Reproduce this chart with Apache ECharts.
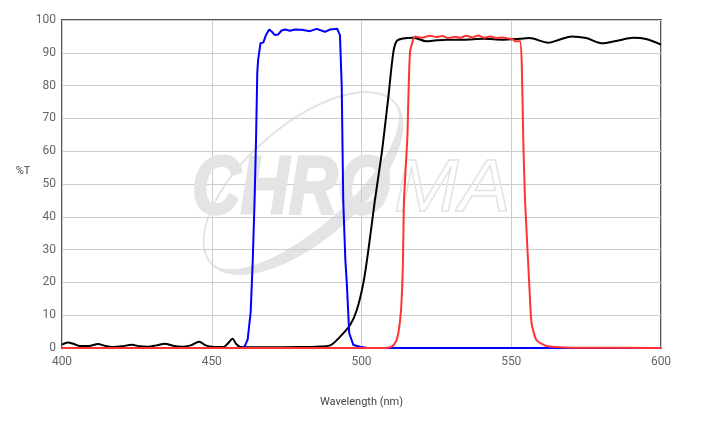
<!DOCTYPE html>
<html><head><meta charset="utf-8">
<script src="https://cdn.jsdelivr.net/npm/echarts@6/dist/echarts.min.js"></script>
<style>html,body{margin:0;padding:0;background:#fff}#c{width:701px;height:431px}</style>
</head><body><div id="c"></div>
<script>
// Black curve (long-pass)
const blackWl = [400,402,404,406,409,412,414.5,417,420,423.3,426,428.8,431.5,434.4,437,440,443,445.8,448,450,452,454,455.5,456.9,458.2,459.5,462,470,480,485,489.5,492.8,496.2,498.4,500.6,502.3,504.5,506.7,507.5,509,510.6,511.7,513.4,517.3,521.7,525,528.4,534,540.7,547.4,552.9,556,562.4,566,570.2,575,580.2,585,590.8,595,600];
const blackT  = [1.0,1.7,1.2,0.6,0.6,1.2,0.6,0.3,0.5,1.0,0.5,0.4,0.8,1.3,0.7,0.4,0.8,1.9,0.8,0.4,0.3,0.3,1.5,2.8,1.2,0.3,0.2,0.2,0.3,0.4,0.8,3.4,7,11.5,19.7,29.9,45.2,59,65,76.8,90,93.5,94.3,94.6,93.5,93.8,94,94,94.3,94,94.3,94.5,93.1,94,95,94.5,92.9,93.6,94.6,94.2,92.5];
// Blue curve (band-pass)
const blueWl = [400,460,461,462,463,463.7,464.3,464.8,465.2,465.5,466.3,467.2,468.1,469.2,470,471.1,472.2,473.3,474.5,476.1,477.8,480,482.8,485,487.8,489.5,491.9,492.8,493.4,493.9,494.6,495.1,495.9,497.3,499.5,502,600];
const blueT  = [0,0,0.5,2.6,11,27,45,64,84,88,93,93.1,95.4,97.1,96.5,95.4,95.6,96.8,97.1,96.7,97.1,97,96.6,97.3,96.4,97.1,97.3,95.4,79.7,45,27,19.7,4.5,0.9,0.4,0,0];
// Red curve (band-pass)
const redWl = [400,508,510.1,511.5,512.3,513.2,513.8,514.2,515.3,516.2,517.9,520,522.9,525,527,529,531,533,535,537,539,541,543,545,547,549,550.7,551.3,552.9,553.5,554,554.6,556,556.8,558.5,561.8,565,570,600];
const redT  = [0,0,0.4,2,4.5,11.6,24.8,45.2,64,90,95,94.6,95.2,94.8,95.1,94.5,94.9,94.6,95.2,94.7,95.3,94.6,95.0,94.5,94.7,94.4,94,93.5,93.5,86.9,64,45.2,19.7,7.4,2.3,0.6,0.3,0.1,0];

const xTicks = [400,450,500,550,600];
const yTicks = [0,10,20,30,40,50,60,70,80,90,100];

const pairs = (xs, ys) => xs.map((x,i)=>[x, ys[i]]);
const chart = echarts.init(document.getElementById('c'), null, {renderer:'canvas'});
const FONT = 'Roboto';
const WM = '#e4e4e4';

// decorative watermark swoosh (crescent along lower side of tilted ellipse)
const cres = [];
for (let k = 0; k <= 40; k++) { const t = Math.PI * k / 40; cres.push([122*Math.cos(t), 57*Math.sin(t)]); }
for (let k = 40; k >= 0; k--) { const t = Math.PI * k / 40; cres.push([121*Math.cos(t), 45*Math.sin(t)]); }

chart.setOption({
  animation:false,
  backgroundColor:'#fff',
  grid:{left:62,right:40,top:20,bottom:83,show:true,borderColor:'#555',borderWidth:2,backgroundColor:'transparent'},
  graphic:[
    {type:'group', x:303, y:183, rotation:41*Math.PI/180, z:0, silent:true, children:[
      {type:'ellipse', shape:{cx:0,cy:0,rx:122,ry:57}, style:{fill:'none',stroke:WM,lineWidth:2}},
      {type:'polygon', shape:{points:cres}, style:{fill:WM}}
    ]},
    {type:'text', x:192, y:190, scaleX:0.82, z:1, silent:true,
      style:{text:'CHRO', font:'italic bold 82px "Liberation Sans"', fill:WM, stroke:WM, lineWidth:3, textVerticalAlign:'middle'}},
    {type:'text', x:394, y:190, scaleX:1.05, z:1, silent:true,
      style:{text:'MA', font:'italic 400 74px "Liberation Sans"', fill:'none', stroke:WM, lineWidth:1.5, textVerticalAlign:'middle'}},
    {type:'text', x:23, y:171, z:5, silent:true,
      style:{text:'%T', font:'11px Roboto', fill:'#444', textAlign:'center', textVerticalAlign:'middle'}}
  ],
  xAxis:{type:'value',min:xTicks[0],max:xTicks[xTicks.length-1],interval:50,
    name:'Wavelength (nm)',nameLocation:'middle',nameGap:49,
    nameTextStyle:{fontFamily:FONT,fontSize:11,color:'#444'},
    axisLine:{show:false},axisTick:{show:false},
    axisLabel:{fontFamily:FONT,fontSize:12,color:'#666',margin:8},
    splitLine:{show:true,lineStyle:{color:'#ccc',width:1}}},
  yAxis:{type:'value',min:yTicks[0],max:yTicks[yTicks.length-1],interval:10,
    axisLine:{show:false},axisTick:{show:false},
    axisLabel:{fontFamily:FONT,fontSize:12,color:'#666',margin:6},
    splitLine:{show:true,lineStyle:{color:'#ccc',width:1}}},
  series:[
    {type:'line',data:pairs(blackWl,blackT),showSymbol:false,smooth:0.3,lineStyle:{color:'#000',width:2},z:3},
    {type:'line',data:pairs(blueWl,blueT),showSymbol:false,smooth:false,lineStyle:{color:'#0000ff',width:2},z:4},
    {type:'line',data:pairs(redWl,redT),showSymbol:false,smooth:0.2,lineStyle:{color:'#ff3333',width:2},z:5}
  ]
});
</script></body></html>
